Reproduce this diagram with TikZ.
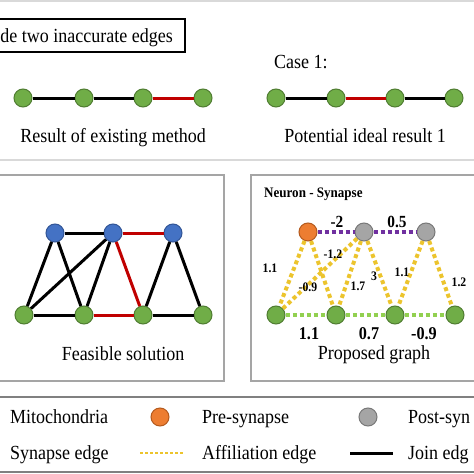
\documentclass[tikz,border=0pt]{standalone}
\usepackage{fontspec}
\setmainfont[FakeStretch=0.9]{Liberation Serif}
\definecolor{mgreen}{RGB}{112,173,71}
\definecolor{mgreenD}{RGB}{80,125,50}
\definecolor{mblue}{RGB}{68,114,196}
\definecolor{mblueD}{RGB}{50,85,150}
\definecolor{morange}{RGB}{237,125,49}
\definecolor{morangeD}{RGB}{180,90,30}
\definecolor{mgray}{RGB}{165,165,165}
\definecolor{mgrayD}{RGB}{120,120,120}
\definecolor{mred}{RGB}{192,0,0}
\definecolor{myellow}{RGB}{236,196,45}
\definecolor{mpurple}{RGB}{112,48,160}
\definecolor{mlgreen}{RGB}{146,208,80}
\definecolor{panelgray}{RGB}{165,165,165}
\tikzset{
  vert/.style={circle,minimum size=18pt,inner sep=0pt,line width=1pt},
  gv/.style={vert,fill=mgreen,draw=mgreenD},
  bv/.style={vert,fill=mblue,draw=mblueD},
  ov/.style={vert,fill=morange,draw=morangeD},
  yv/.style={vert,fill=mgray,draw=mgrayD},
  joinedge/.style={line width=3pt,black},
  rededge/.style={line width=3pt,mred},
  affedge/.style={line width=4pt,myellow,dash pattern=on 4pt off 3pt},
  synedge/.style={line width=4pt,mpurple,dash pattern=on 4pt off 3pt},
  mitoedge/.style={line width=4pt,mlgreen,dash pattern=on 4pt off 3pt},
  big/.style={font=\fontsize{20}{22}\selectfont,inner sep=0pt},
  wlab/.style={font=\fontsize{13}{15}\selectfont\bfseries,inner sep=0pt},
  slab/.style={font=\fontsize{17}{19}\selectfont\bfseries,inner sep=0pt,anchor=base},
  mlab/.style={font=\fontsize{18}{20}\selectfont\bfseries,inner sep=0pt,anchor=base},
  panel/.style={draw=panelgray,line width=1.8pt},
}
\begin{document}
\begin{tikzpicture}[x=1pt,y=-1pt]
\useasboundingbox (0,0) rectangle (474,474);
\clip (0,0) rectangle (474,474);
% separators
\draw[line width=2pt,black!15] (-5,1) -- (480,1);
\draw[line width=2pt,black!15] (-5,160) -- (480,160);
% top-left box
\draw[line width=1.2pt,black] (-5,19) rectangle (185,52);
\node[big,anchor=base east] (boxtxt) at (173,42) {de two inaccurate edges};
% existing method chain
\node[gv] (a1) at (23,98) {};
\node[gv] (a2) at (84,98) {};
\node[gv] (a3) at (143,98) {};
\node[gv] (a4) at (203,98) {};
\draw[joinedge] (a1) -- (a2);
\draw[joinedge] (a2) -- (a3);
\draw[rededge] (a3) -- (a4);
\node[big,anchor=base] (t1) at (113,142) {Result of existing method};
% case 1
\node[big,anchor=base west] (case) at (274,68) {Case 1:};
\node[gv] (c1) at (276,98) {};
\node[gv] (c2) at (336,98) {};
\node[gv] (c3) at (395,98) {};
\node[gv] (c4) at (454,98) {};
\draw[joinedge] (c1) -- (c2);
\draw[rededge] (c2) -- (c3);
\draw[joinedge] (c3) -- (c4);
\node[big,anchor=base] (t2) at (365,142) {Potential ideal result 1};
% panels
\draw[panel] (-5,175) rectangle (224,381);
\draw[panel] (251,175) rectangle (480,381);
% feasible solution
\node[bv] (b1) at (55,233) {};
\node[bv] (b2) at (113,233) {};
\node[bv] (b3) at (173,233) {};
\node[gv] (g1) at (24,315) {};
\node[gv] (g2) at (84,315) {};
\node[gv] (g3) at (143,315) {};
\node[gv] (g4) at (203,315) {};
\draw[joinedge] (b1) -- (b2);
\draw[rededge] (b2) -- (b3);
\draw[joinedge] (b1) -- (g1);
\draw[joinedge] (b1) -- (g2);
\draw[joinedge] (b2) -- (g1);
\draw[joinedge] (b2) -- (g2);
\draw[rededge] (b2) -- (g3);
\draw[joinedge] (b3) -- (g3);
\draw[joinedge] (b3) -- (g4);
\draw[joinedge] (g1) -- (g2);
\draw[rededge] (g2) -- (g3);
\draw[joinedge] (g3) -- (g4);
\node[big,anchor=base] (t3) at (123,360) {Feasible solution};
% proposed graph
\node[font=\fontsize{14.5}{16}\selectfont\bfseries,inner sep=0pt,anchor=base west] (ns) at (264,197) {Neuron - Synapse};
\node[ov] (p1) at (308,232) {};
\node[yv] (q1) at (364,232) {};
\node[yv] (q2) at (426,232) {};
\node[gv] (m1) at (276,315) {};
\node[gv] (m2) at (336,315) {};
\node[gv] (m3) at (395,315) {};
\node[gv] (m4) at (455,315) {};
\draw[synedge] (p1) -- (q1);
\draw[synedge] (q1) -- (q2);
\draw[affedge] (p1) -- (m1);
\draw[affedge] (p1) -- (m2);
\draw[affedge] (q1) -- (m1);
\draw[affedge] (q1) -- (m2);
\draw[affedge] (q1) -- (m3);
\draw[affedge] (q2) -- (m3);
\draw[affedge] (q2) -- (m4);
\draw[mitoedge] (m1) -- (m2);
\draw[mitoedge] (m2) -- (m3);
\draw[mitoedge] (m3) -- (m4);
\node[slab] (l1) at (337,227) {-2};
\node[slab] (l2) at (397,227) {0.5};
\node[wlab] (l3) at (270,268) {1.1};
\node[wlab] (l4) at (333,254) {-1.2};
\node[wlab] (l5) at (308,287) {-0.9};
\node[wlab] (l6) at (358,286) {1.7};
\node[wlab] (l7) at (374,276) {3};
\node[wlab] (l8) at (402,272) {1.1};
\node[wlab] (l9) at (459,282) {1.2};
\node[mlab] (l10) at (309,339) {1.1};
\node[mlab] (l11) at (369,339) {0.7};
\node[mlab] (l12) at (424,339) {-0.9};
\node[big,anchor=base] (t4) at (374,359) {Proposed graph};
% legend
\draw[line width=2pt,black!50] (-5,397) -- (480,397);
\draw[line width=2pt,black!50] (-5,472) -- (480,472);
\node[big,anchor=base west] (lg1) at (10,423) {Mitochondria};
\node[ov] (lgo) at (160,417) {};
\node[big,anchor=base west] (lg2) at (202,423) {Pre-synapse};
\node[yv] (lgg) at (368,417) {};
\node[big,anchor=base west] (lg3) at (408,423) {Post-syn};
\node[big,anchor=base west] (lg4) at (10,459) {Synapse edge};
\coordinate (ya) at (140,453);
\coordinate (yb) at (183,453);
\draw[line width=2pt,myellow,dash pattern=on 3pt off 2pt] (ya) -- (yb);
\node[big,anchor=base west] (lg5) at (202,459) {Affiliation edge};
\coordinate (ja) at (350,453);
\coordinate (jb) at (393,453);
\draw[line width=3pt,black] (ja) -- (jb);
\node[big,anchor=base west] (lg6) at (408,459) {Join edg};
\end{tikzpicture}
\end{document}
